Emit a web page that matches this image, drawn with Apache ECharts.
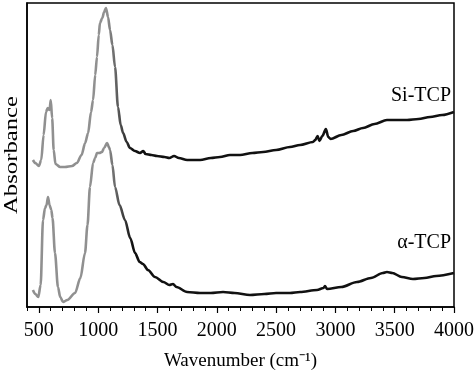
<!DOCTYPE html>
<html><head><meta charset="utf-8">
<script src="https://cdn.jsdelivr.net/npm/echarts@6/dist/echarts.min.js"></script>
<style>html,body{margin:0;padding:0;background:#fff}#c{width:474px;height:370px}</style>
</head><body><div id="c"></div>
<script>
// Wavenumbers (cm^-1) and absorbance (arbitrary units)
const siWn = [450,470,500,520,540,560,575,590,600,612,625,640,680,720,780,820,860,890,915,940,957,975,990,1005,1015,1035,1050,1066,1083,1100,1120,1142,1167,1190,1210,1240,1268,1310,1353,1380,1400,1450,1496,1560,1600,1640,1680,1750,1860,1950,2027,2111,2196,2300,2390,2500,2617,2702,2811,2830,2850,2865,2890,2920,2940,2960,3050,3150,3233,3330,3435,3520,3604,3700,3798,3900,4000];
const siPx = [160,163,166,160,135,112,108,110,100,118,150,164,167,167,166,163,155,143,133,112,100,75,57,35,23,18,12,8,17,30,45,67,107,125,133,142,148,151,153,151,154,155,156,157,158,156,158,160,160,158,157,155,155,153,152,150,147,145,142,140,136,141,136,129,137,139,135,131,128,124,120,120,120,119,117,115,112];
const aWn = [450,470,495,515,535,552,565,577,590,605,615,636,661,680,704,740,805,850,889,910,931,957,975,990,1010,1032,1050,1075,1090,1100,1120,1142,1180,1226,1270,1311,1350,1378,1420,1479,1550,1600,1631,1660,1750,1859,1950,2053,2150,2280,2400,2500,2617,2702,2845,2900,2912,2930,3050,3182,3300,3400,3435,3480,3560,3654,3750,3850,4000];
const aPx = [290,294,297,285,220,208,205,197,205,210,218,253,287,297,302,300,293,278,253,225,187,163,158,153,153,152,148,143,147,150,165,187,205,220,238,253,262,264,270,277,282,285,284,287,292,293,293,292,293,295,294,293,293,292,290,288,286,289,287,282,278,273,272,273,277,279,278,276,273];
const xTicks = [500,1000,1500,2000,2500,3000,3500,4000];
const seriesNames = ['Si-TCP','α-TCP'];

const toVal = p => +( (307 - p) / 100 ).toFixed(2);
const siData = siWn.map((w,i)=>[w,toVal(siPx[i])]);
const aData = aWn.map((w,i)=>[w,toVal(aPx[i])]);

const FONT = '"Liberation Serif","Times New Roman",serif';
const grad = () => new echarts.graphic.LinearGradient(0,0,1,0,[
  {offset:0,color:'#909090'},{offset:0.18,color:'#909090'},{offset:0.24,color:'#111'},{offset:1,color:'#111'}]);

const chart = echarts.init(document.getElementById('c'), null, {renderer:'canvas'});
chart.setOption({
  animation:false,
  grid:{left:27,right:20,top:3,bottom:63,containLabel:false,outerBoundsMode:'none',
    show:true,borderColor:'#000',borderWidth:1.5,backgroundColor:'transparent'},
  xAxis:[{
    type:'value',min:400,max:4000,interval:100,
    axisLine:{show:true,lineStyle:{color:'#000',width:1.5}},
    axisTick:{show:true,length:4,lineStyle:{color:'#000',width:1}},
    axisLabel:{show:false},splitLine:{show:false},
    name:'Wavenumber (cm⁻¹)',nameLocation:'middle',nameGap:45,
    nameTextStyle:{fontFamily:FONT,fontSize:19,color:'#000'}
  },{
    type:'value',min:400,max:4000,position:'bottom',
    axisLine:{show:false},
    axisTick:{show:true,length:6,customValues:xTicks,lineStyle:{color:'#000',width:1.2}},
    axisLabel:{show:true,customValues:xTicks,margin:14,fontFamily:FONT,fontSize:20,color:'#000',
      formatter:v=>String(v)},
    splitLine:{show:false}
  }],
  yAxis:{type:'value',min:0,max:3.04,
    axisLine:{show:true,lineStyle:{color:'#000',width:1.5}},
    axisTick:{show:false},axisLabel:{show:false},splitLine:{show:false}
  },
  series:[
    {name:seriesNames[0],type:'line',data:siData,showSymbol:false,smooth:0.3,smoothMonotone:'x',
     lineStyle:{width:2.6,color:grad()}},
    {name:seriesNames[1],type:'line',data:aData,showSymbol:false,smooth:0.3,smoothMonotone:'x',
     lineStyle:{width:2.6,color:grad()}}
  ],
  graphic:[
    {type:'text',x:12.5,y:155,rotation:Math.PI/2,scaleX:1.3,
     style:{text:'Absorbance',font:'19px '+FONT,fill:'#000',align:'center',verticalAlign:'middle'}},
    {type:'text',right:23,top:86,style:{text:seriesNames[0],font:'20px '+FONT,fill:'#000'}},
    {type:'text',right:23,top:233,style:{text:seriesNames[1],font:'20px '+FONT,fill:'#000'}}
  ]
});
</script></body></html>
